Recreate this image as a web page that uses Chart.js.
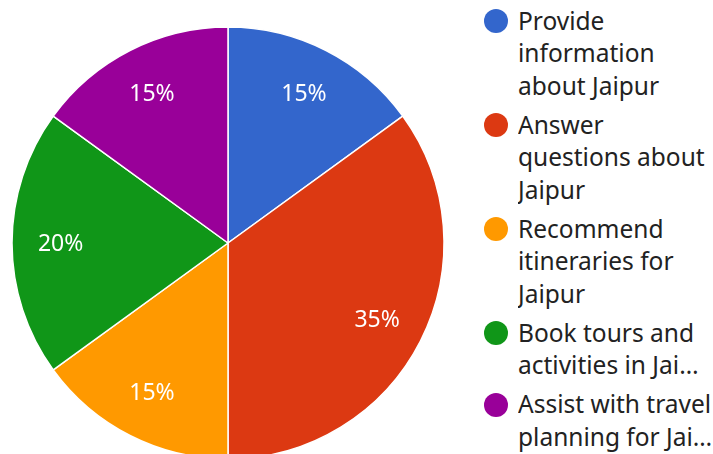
<!DOCTYPE html>
<html>
<head>
<meta charset="utf-8">
<script src="https://cdn.jsdelivr.net/npm/chart.js@4/dist/chart.umd.min.js"></script>
<style>
    html, body { margin: 0; padding: 0; background: #fff; width: 713px; height: 454px; overflow: hidden; }
    #pie-wrap { position: absolute; left: 0; top: 0; width: 460px; height: 480px; }
    #legend { position: absolute; left: 484px; top: 4.75px; width: 229px; font-family: "Noto Sans", sans-serif; font-size: 24.5px; color: #222; }
    .item { position: relative; margin-bottom: 6.5px; }
    .dot { position: absolute; left: 0; top: 4.5px; width: 24px; height: 24px; border-radius: 50%; }
    .line { margin-left: 34px; height: 32.5px; line-height: 32.5px; white-space: nowrap; overflow: hidden; text-overflow: ellipsis; width: 195px; }
</style>
</head>
<body>
<div id="pie-wrap"><canvas id="pie"></canvas></div>
<div id="legend"></div>
<script>
    // Chart data
    const categories = [
        "Provide information about Jaipur",
        "Answer questions about Jaipur",
        "Recommend itineraries for Jaipur",
        "Book tours and activities in Jaipur",
        "Assist with travel planning for Jaipur"
    ];
    const shares = [15, 35, 15, 20, 15];
    const colors = ["#3366cc", "#dc3912", "#ff9900", "#109618", "#990099"];
    const legendMaxLines = [3, 3, 3, 2, 2];

    // Percent labels inside the slices
    const sliceLabels = {
        id: "sliceLabels",
        afterDatasetsDraw(chart) {
            const ctx = chart.ctx;
            const data = chart.data.datasets[0].data;
            const total = data.reduce((a, b) => a + b, 0);
            ctx.save();
            ctx.fillStyle = "#fff";
            ctx.font = "23px 'Noto Sans'";
            ctx.textAlign = "center";
            ctx.textBaseline = "middle";
            chart.getDatasetMeta(0).data.forEach((arc, i) => {
                const mid = (arc.startAngle + arc.endAngle) / 2;
                const r = arc.outerRadius * 0.775;
                const pct = Math.round(data[i] / total * 100) + "%";
                ctx.fillText(pct, arc.x + Math.cos(mid) * r, arc.y + Math.sin(mid) * r + 1);
            });
            ctx.restore();
        }
    };

    new Chart(document.getElementById("pie"), {
        type: "pie",
        data: {
            labels: categories,
            datasets: [{
                data: shares,
                backgroundColor: colors,
                borderColor: "#fff",
                borderWidth: 1.5,
                hoverOffset: 0
            }]
        },
        options: {
            responsive: true,
            maintainAspectRatio: false,
            animation: false,
            events: [],
            layout: {
                padding: { left: 11.25, top: 26.25, right: 15.25, bottom: 20.25 }
            },
            plugins: {
                legend: { display: false },
                tooltip: { enabled: false }
            }
        },
        plugins: [sliceLabels]
    });

    // Wrapped legend on the right
    let wrapWords = (text, maxLines) => {
        const ctx = document.createElement("canvas").getContext("2d");
        ctx.font = "24.5px 'Noto Sans'";
        const words = text.split(" ");
        let lines = [];
        let cur = "";
        words.forEach(w => {
            const test = cur ? cur + " " + w : w;
            if (ctx.measureText(test).width > 195 && cur) {
                lines.push(cur);
                cur = w;
            } else {
                cur = test;
            }
        });
        lines.push(cur);
        if (lines.length > maxLines) {
            lines = lines.slice(0, maxLines - 1).concat([lines.slice(maxLines - 1).join(" ")]);
        }
        return lines;
    };

    const legend = document.getElementById("legend");
    categories.forEach((label, i) => {
        const item = document.createElement("div");
        item.className = "item";
        const dot = document.createElement("div");
        dot.className = "dot";
        dot.style.background = colors[i];
        item.appendChild(dot);
        wrapWords(label, legendMaxLines[i]).forEach(t => {
            const line = document.createElement("div");
            line.className = "line";
            line.textContent = t;
            item.appendChild(line);
        });
        legend.appendChild(item);
    });
</script>
</body>
</html>
